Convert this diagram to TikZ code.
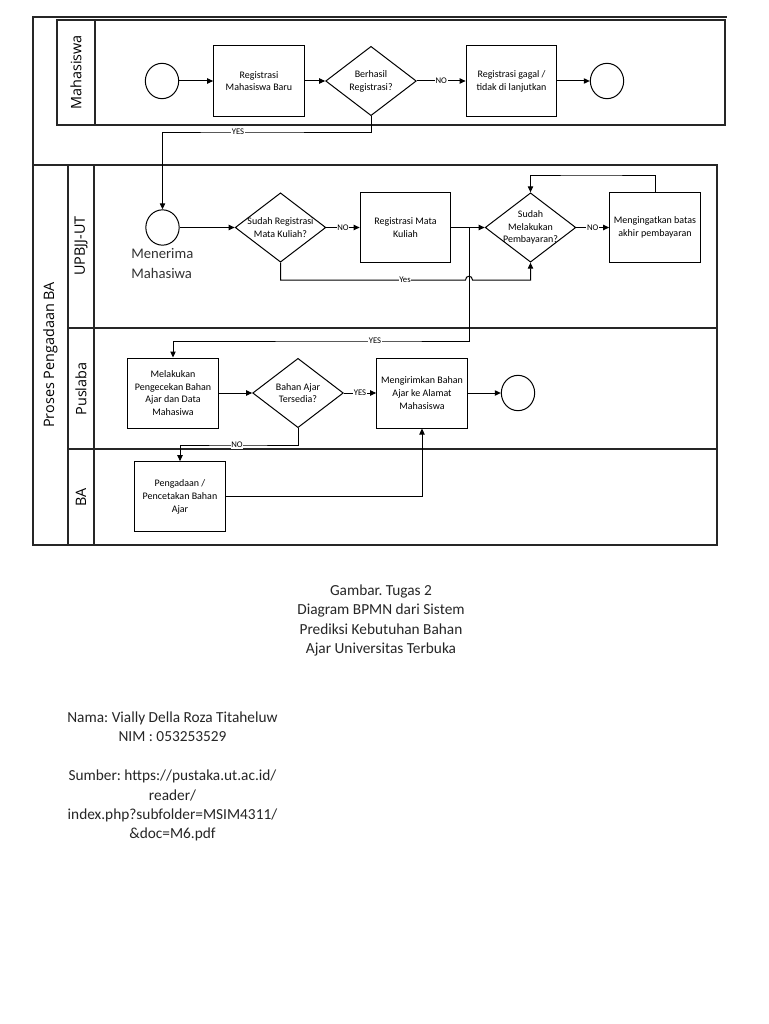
\documentclass[tikz,border=0pt]{standalone}
\usepackage{fontspec}
\setmainfont{Carlito}
\newfontfamily\lanefont{Open Sans}
\usetikzlibrary{shapes.geometric,arrows.meta}
\frenchspacing
\begin{document}
\begin{tikzpicture}[x=0.75pt,y=-0.75pt,
  every node/.style={inner sep=0pt},
  frame/.style={draw=black!85,line width=0.9pt},
  task/.style={draw,line width=0.75pt,rectangle,minimum width=68pt,minimum height=52.5pt,align=center,font=\fontsize{7.5}{9.6}\selectfont},
  gate/.style={draw,line width=0.75pt,diamond,minimum width=68pt,minimum height=52pt},
  ev/.style={draw,line width=0.75pt,ellipse,minimum width=25pt,minimum height=26.5pt},
  gtext/.style={align=center,font=\fontsize{7.5}{9.6}\selectfont},
  lane/.style={rotate=90,font=\lanefont\fontsize{10.8}{12}\selectfont},
  arr/.style={draw,line width=0.75pt,-{Triangle[length=4.5pt,width=4pt]}},
  lbl/.style={fill=white,inner sep=0.6pt,font=\fontsize{6.5}{7}\selectfont},
  capt/.style={align=center,text=black!85,font=\fontsize{11.5}{14.6}\selectfont},
]
\fill[white] (0,0) rectangle (768,1024);
\useasboundingbox (0,0) rectangle (768,1024);

% frames and lanes
\draw[frame] (33,545) -- (33,17) -- (727,17);
\draw[frame] (57,20) rectangle (725,125);
\draw[frame] (95,20) -- (95,125);
\draw[frame] (33,165) rectangle (717,545);
\draw[frame] (68,165) -- (68,545);
\draw[frame] (94,165) -- (94,545);
\draw[frame] (68,328) -- (717,328);
\draw[frame] (68,449) -- (717,449);

\node[lane] (lmhs) at (76,72.5) {Mahasiswa};
\node[lane] (lpool) at (50.5,355) {Proses Pengadaan BA};
\node[lane] (lupb) at (81,246) {UPBJJ-UT};
\node[lane] (lpus) at (81,389) {Puslaba};
\node[lane] (lba) at (81,497) {BA};

% Mahasiswa lane
\node[ev] (s1) at (162,81) {};
\node[task] (b1) at (259,81) {Registrasi\\Mahasiswa Baru};
\node[gate] (d1) at (371,81) {};
\node[gtext] (d1t) at (371,81) {Berhasil\\Registrasi?};
\node[task] (b2) at (511.5,81) {Registrasi gagal /\\tidak di lanjutkan};
\node[ev] (e1) at (607,81) {};

% UPBJJ-UT lane
\node[ev] (s2) at (162.5,227.5) {};
\node[anchor=west,align=left,font=\fontsize{11}{14.5}\selectfont,text=black!80] (s2t) at (131,263.5) {Menerima\\Mahasiwa};
\node[gate] (d2) at (280.5,227.5) {};
\node[gtext] (d2t) at (280.5,227.5) {Sudah Registrasi\\Mata Kuliah?};
\node[task] (b3) at (405.5,227.5) {Registrasi Mata\\Kuliah};
\node[gate] (d3) at (530.5,227.5) {};
\node[gtext] (d3t) at (530.5,227.5) {Sudah\\Melakukan\\Pembayaran?};
\node[task] (b4) at (655,227.5) {Mengingatkan batas\\akhir pembayaran};

% Puslaba lane
\node[task] (b5) at (173,393) {Melakukan\\Pengecekan Bahan\\Ajar dan Data\\Mahasiwa};
\node[gate] (d4) at (298,393) {};
\node[gtext] (d4t) at (298,393) {Bahan Ajar\\Tersedia?};
\node[task] (b6) at (422,393) {Mengirimkan Bahan\\Ajar ke Alamat\\Mahasiswa};
\node[ev] (e2) at (518,393) {};

% BA lane
\node[task] (b7) at (180,496.7) {Pengadaan /\\Pencetakan Bahan\\Ajar};

% connectors
\draw[arr] (s1) -- (b1);
\draw[arr] (b1) -- (d1);
\draw[arr] (d1) -- node[lbl]{NO} (b2);
\draw[arr] (b2) -- (e1);
\coordinate (yes1) at (238,132);
\draw[arr] (d1.south) |- (yes1) node[lbl]{YES} -| (s2.north);

\draw[arr] (s2) -- (d2);
\draw[arr] (d2) -- node[lbl]{NO} (b3);
\draw[arr] (b3) -- (d3);
\draw[arr] (d3) -- node[lbl]{NO} (b4);
\coordinate (loop) at (590,175);
\draw[arr] (b4.north) |- (loop) -| (d3.north);
\coordinate (yes2) at (405,280);
\coordinate (hopa) at (465.5,280);
\coordinate (hopb) at (472.5,280);
\coordinate (yes2e) at (530.5,280);
\draw[arr] (d2.south) |- (yes2) node[lbl]{Yes} -- (hopa) .. controls (465.5,275) and (472.5,275) .. (hopb) -- (yes2e) -- (d3.south);
\coordinate (j1) at (469,227.5);
\coordinate (yes3) at (375,341);
\draw[arr] (j1) |- (yes3) node[lbl]{YES} -| (b5.north);

\draw[arr] (b5) -- (d4);
\draw[arr] (d4) -- node[lbl]{YES} (b6);
\draw[arr] (b6) -- (e2);
\coordinate (no4) at (237,445);
\draw[arr] (d4.south) |- (no4) node[lbl]{NO} -| (b7.north);
\draw[arr] (b7.east) -| (b6.south);

% caption texts
\node[capt] (cap) at (381,620.5) {Gambar. Tugas 2\\Diagram BPMN dari Sistem\\Prediksi Kebutuhan Bahan\\Ajar Universitas Terbuka};
\node[capt] (info) at (172.5,776.5) {Nama: Vially Della Roza Titaheluw\\NIM : 053253529\\[14.6pt]Sumber: https://pustaka.ut.ac.id/\\reader/\\index.php?subfolder=MSIM4311/\\\&doc=M6.pdf};
\end{tikzpicture}
\end{document}
